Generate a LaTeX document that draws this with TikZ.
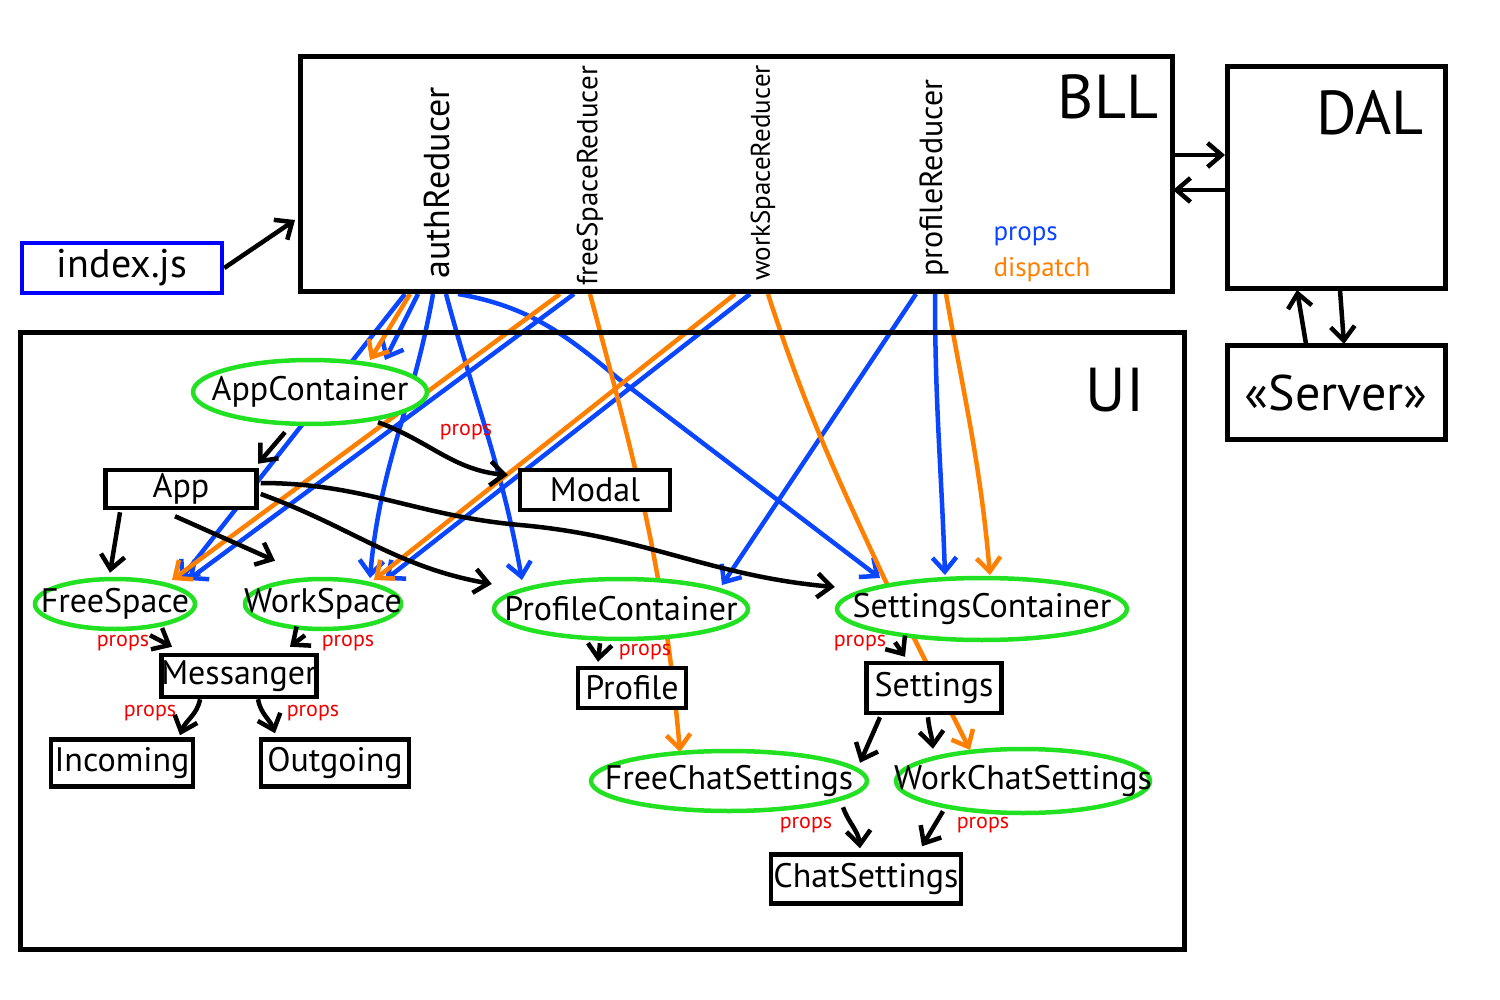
\documentclass[tikz,border=0pt]{standalone}
\usepackage{fontspec}
\setmainfont{PT Sans}
\usetikzlibrary{arrows.meta,shapes.geometric,calc}
\pgfdeclarelayer{bg}
\pgfsetlayers{bg,main}
\definecolor{pblue}{HTML}{0A45FF}
\definecolor{porange}{HTML}{FF8000}
\definecolor{pgreen}{HTML}{22E022}
\definecolor{pred}{HTML}{F00000}
\newcommand{\zb}[1]{\makebox[0pt]{#1}}
\begin{document}
\begin{tikzpicture}[x=1pt,y=-1pt,
  box/.style={draw=black,line width=4.5pt,fill=white,inner sep=0pt,font=\fontsize{34}{36}\selectfont},
  ell/.style={ellipse,draw=pgreen,line width=4.5pt,fill=white,inner sep=0pt,font=\fontsize{34}{36}\selectfont},
  big/.style={box,fill=none,line width=5pt},
  arr/.style={line width=4.5pt,-{Straight Barb[length=14pt,width=24pt,line width=4.5pt]}},
  bl/.style={arr,draw=pblue},
  orr/.style={arr,draw=porange},
  pr/.style={text=pred,font=\fontsize{22}{24}\selectfont,inner sep=0pt},
  red/.style={rotate=90,anchor=west,inner sep=0pt}]
\useasboundingbox (0,0) rectangle (1500,1000);
% big boxes
\node[big,minimum width=872pt,minimum height=235pt] (bll) at (736,174.5) {};
\node[font=\fontsize{62}{62}\selectfont] (bllt) at (1108,97) {BLL};
\node[big,minimum width=218pt,minimum height=222pt] (dal) at (1336,178) {};
\node[font=\fontsize{62}{62}\selectfont] (dalt) at (1370,113) {DAL};
\node[big,minimum width=218pt,minimum height=93pt,font=\fontsize{50}{50}\selectfont] (srv) at (1336,392.5) {«Server»};
\node[big,minimum width=1164pt,minimum height=616pt] (ui) at (602,641) {};
\node[font=\fontsize{62}{62}\selectfont] (uit) at (1115,390) {UI};
\node[box,draw=blue,minimum width=200pt,minimum height=50pt,font=\fontsize{40}{40}\selectfont] (idx) at (122,268) {index.js};
% reducers
\node[red,font=\fontsize{36}{36}\selectfont] (ar) at (437,279) {authReducer};
\node[red,font=\fontsize{29}{29}\selectfont] (fr) at (590,286) {freeSpaceReducer};
\node[red,font=\fontsize{27}{27}\selectfont] (wr) at (763,281) {workSpaceReducer};
\node[red,font=\fontsize{32}{32}\selectfont] (prr) at (934,277) {profileReducer};
\node[text=pblue,font=\fontsize{27}{27}\selectfont,anchor=west] (lp) at (990,236) {props};
\node[text=porange,font=\fontsize{27}{27}\selectfont,anchor=west] (ld) at (990,270) {dispatch};
% UI nodes
\node[ell,minimum width=234pt,minimum height=64pt] (appc) at (310,392) {\zb{AppContainer}};
\node[box,minimum width=151pt,minimum height=38pt] (app) at (181,489) {App};
\node[box,minimum width=150pt,minimum height=40pt] (modal) at (595,490) {Modal};
\node[ell,minimum width=160pt,minimum height=50pt] (fs) at (115,604) {\zb{FreeSpace}};
\node[ell,minimum width=156pt,minimum height=50pt] (ws) at (323,604) {\zb{WorkSpace}};
\node[ell,minimum width=254pt,minimum height=60pt] (pc) at (621,609) {\zb{ProfileContainer}};
\node[ell,minimum width=290pt,minimum height=62pt] (sc) at (982,609) {\zb{SettingsContainer}};
\node[box,minimum width=154pt,minimum height=42pt] (mess) at (239,676) {Messanger};
\node[box,minimum width=142pt,minimum height=47pt] (inc) at (122,763) {Incoming};
\node[box,minimum width=148pt,minimum height=47pt] (out) at (335,763) {Outgoing};
\node[box,minimum width=108pt,minimum height=40pt] (prof) at (632,688) {Profile};
\node[box,minimum width=135pt,minimum height=50pt] (set) at (934,688) {Settings};
\node[ell,minimum width=276pt,minimum height=60pt] (fcs) at (729,781) {\zb{FreeChatSettings}};
\node[ell,minimum width=254pt,minimum height=64pt] (wcs) at (1023,781) {\zb{WorkChatSettings}};
\node[box,minimum width=190pt,minimum height=49pt] (cs) at (866,879) {ChatSettings};
% props labels
\node[pr] (p1) at (466,432) {props};
\node[pr] (p2) at (123,643) {props};
\node[pr] (p3) at (348,643) {props};
\node[pr] (p4) at (150,713) {props};
\node[pr] (p5) at (313,713) {props};
\node[pr] (p6) at (645,652) {props};
\node[pr] (p7) at (860,643) {props};
\node[pr] (p8) at (806,825) {props};
\node[pr] (p9) at (983,825) {props};
% coordinates
\coordinate (a1) at (405,294); \coordinate (a2) at (418,294); \coordinate (a3) at (433,294);
\coordinate (a4) at (446,294); \coordinate (a5) at (458,294); \coordinate (ao) at (410,294);
\coordinate (f1) at (574,294); \coordinate (fo) at (560,294); \coordinate (fo2) at (590,294);
\coordinate (w1) at (750,294); \coordinate (wo) at (735,294); \coordinate (wo2) at (768,294);
\coordinate (r1) at (916,294); \coordinate (r2) at (935,294); \coordinate (ro) at (946,294);
\coordinate (bllin) at (295,220);
\coordinate (bo1) at (1173,155); \coordinate (di1) at (1225,155);
\coordinate (do2) at (1225,190); \coordinate (bi2) at (1173,190);
\coordinate (su) at (1306,344); \coordinate (du) at (1297,290);
\coordinate (dd) at (1340,290); \coordinate (sd) at (1344,344);
\coordinate (mid) at (520,525);
\begin{pgfonlayer}{bg}
\draw[bl] (a1) -- (180,580);
\draw[bl] (a2) -- (385,360);
\draw[bl] (a3) to[out=-100,in=85] (370,578);
\draw[bl] (a4) to[out=-75,in=100] (522,580);
\draw[bl] (a5) to[out=-10,in=140] (620,380) -- (880,578);
\draw[bl] (f1) -- (188,580);
\draw[bl] (w1) -- (385,580);
\draw[bl] (r1) -- (722,585);
\draw[bl] (r2) to[out=-90,in=92] (945,575);
\draw[orr] (ao) -- (370,360);
\draw[orr] (fo) -- (172,580);
\draw[orr] (fo2) to[out=-75,in=95] (680,752);
\draw[orr] (wo) -- (374,580);
\draw[orr] (wo2) to[out=-72,in=115] (885,580) -- (970,750);
\draw[orr] (ro) to[out=-80,in=95] (990,575);
\end{pgfonlayer}
% black arrows
\draw[arr] (idx.east) -- (bllin);
\draw[arr] (bo1) -- (di1);
\draw[arr] (do2) -- (bi2);
\draw[arr] (su) -- (du);
\draw[arr] (dd) -- (sd);
\draw[arr] ($(appc.south)+(-25,6)$) -- ($(app.north)+(77,-4)$);
\draw[arr] ($(appc.south)+(68,-4)$) to[out=-20,in=175] ($(modal.west)+(-10,-15)$);
\draw[arr] ($(app.south)+(-61,2)$) -- ($(fs.north)+(-5,-4)$);
\draw[arr] ($(app.south)+(-6,6)$) -- ($(ws.north)+(-48,-16)$);
\draw[arr] ($(app.east)+(2,5)$) to[out=-20,in=170] ($(pc.west)+(0,-25)$);
\draw[arr] ($(app.east)+(2,-6)$) to[out=0,in=175] (mid) to[out=-5,in=175] ($(sc.west)+(0,-22)$);
\draw[arr] ($(fs.south)+(35,4)$) -- ($(mess.north)+(-67,-6)$);
\draw[arr] ($(ws.south)+(-18,4)$) -- ($(mess.north)+(51,-6)$);
\draw[arr] ($(mess.south)+(-39,0)$) to[out=-100,in=70] ($(inc.north)+(58,-2)$);
\draw[arr] ($(mess.south)+(19,0)$) to[out=-80,in=110] ($(out.north)+(-60,-4)$);
\draw[arr] ($(pc.south)+(-21,2)$) -- ($(prof.north)+(-34,-4)$);
\draw[arr] ($(sc.south)+(-87,0)$) -- ($(set.north)+(-29,-4)$);
\draw[arr] ($(set.south)+(-54,2)$) -- ($(fcs.north)+(131,14)$);
\draw[arr] ($(set.south)+(-6,2)$) to[out=-85,in=95] ($(wcs.north)+(-90,2)$);
\draw[arr] ($(fcs.south)+(114,-6)$) to[out=-70,in=95] ($(cs.north)+(-6,-4)$);
\draw[arr] ($(wcs.south)+(-80,-4)$) -- ($(cs.north)+(56,-6)$);
\end{tikzpicture}
\end{document}
